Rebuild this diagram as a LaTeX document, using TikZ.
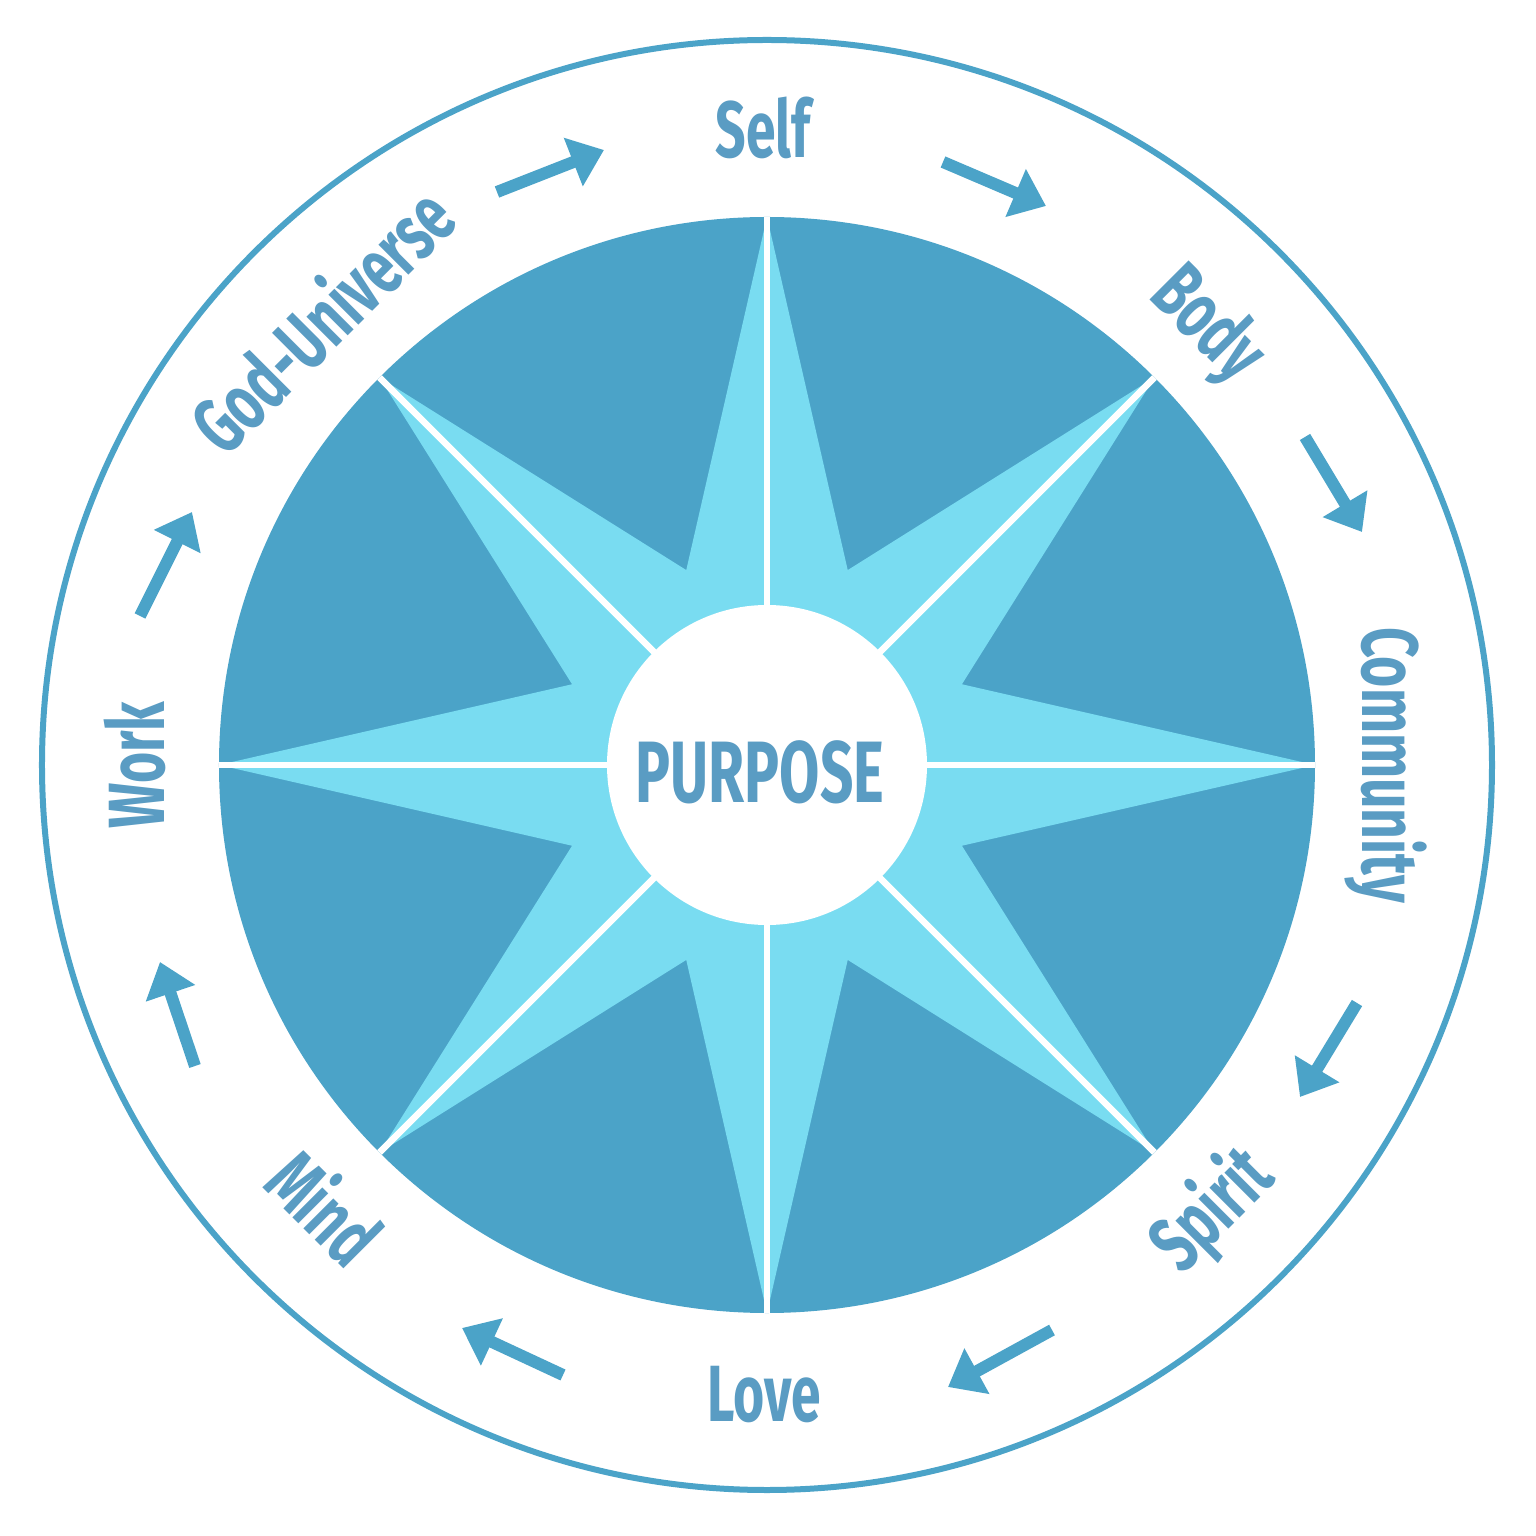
\documentclass[tikz,border=0pt]{standalone}
\usepackage{fontspec}
\newfontfamily\labfont[FakeStretch=0.67]{Fira Sans}
\usetikzlibrary{arrows.meta}
\definecolor{darkb}{HTML}{4BA3C8}
\definecolor{lightb}{HTML}{79DCF1}
\definecolor{txtb}{HTML}{5A9CC3}
\begin{document}
\begin{tikzpicture}[
  lab/.style={font=\labfont\bfseries\fontsize{22.7}{24}\selectfont, text=txtb, inner sep=0pt, text height=0.55cm, text depth=0pt},
  cyc/.style={draw=darkb, line width=0.12cm, -{Triangle[length=0.33cm,width=0.5cm]}},
]
\useasboundingbox[fill=white] (-7.67,-7.71) rectangle (7.69,7.65);
% outer ring
\draw[darkb, line width=0.06cm] (0,0) circle[radius=7.25];
% dark disc
\fill[darkb] (0,0) circle[radius=5.48];
\begin{scope}
  \clip (0,0) circle[radius=5.48];
  \fill[lightb] (90:5.48) -- (67.5:2.11) -- (45:5.48) -- (22.5:2.11) -- (0:5.48) -- (-22.5:2.11)
    -- (-45:5.48) -- (-67.5:2.11) -- (-90:5.48) -- (-112.5:2.11) -- (-135:5.48) -- (-157.5:2.11)
    -- (180:5.48) -- (157.5:2.11) -- (135:5.48) -- (112.5:2.11) -- cycle;
  \foreach \a in {0,45,...,315} \draw[white, line width=0.065cm] (0,0) -- (\a:5.6);
\end{scope}
% hub
\node[circle, fill=white, minimum size=3.2cm, inner sep=0pt] (hub) at (0,0) {};
\node[lab, font=\labfont\bfseries\fontsize{24.8}{26}\selectfont, text height=0.6cm] (purpose) at (-0.07,-0.07) {PURPOSE};
% labels
\node[lab] (self) at (-0.04,6.345) {Self};
\node[lab, rotate=-45] (body) at (45:6.27) {Body};
\node[lab, rotate=-90] (community) at (0:6.23) {Community};
\node[lab, rotate=45] (spirit) at (-45:6.27) {Spirit};
\node[lab] (love) at (-0.03,-6.285) {Love};
\node[lab, rotate=-45] (mind) at (-135:6.28) {Mind};
\node[lab, rotate=90] (work) at (180:6.30) {Work};
\node[lab, rotate=45] (god) at (135:6.27) {God-Universe};
% arrow end points
\coordinate (a1s) at (1.76,6.03);   \coordinate (a1t) at (2.79,5.59);
\coordinate (a2s) at (5.38,3.28);   \coordinate (a2t) at (5.95,2.33);
\coordinate (a3s) at (5.90,-2.38);  \coordinate (a3t) at (5.33,-3.32);
\coordinate (a4s) at (2.85,-5.65);  \coordinate (a4t) at (1.81,-6.22);
\coordinate (a5s) at (-2.04,-6.10); \coordinate (a5t) at (-3.05,-5.63);
\coordinate (a6s) at (-5.72,-3.01); \coordinate (a6t) at (-6.07,-1.97);
\coordinate (a7s) at (-6.27,1.49);  \coordinate (a7t) at (-5.75,2.53);
\coordinate (a8s) at (-2.70,5.73);  \coordinate (a8t) at (-1.63,6.15);
\foreach \i in {1,...,8} \draw[cyc] (a\i s) -- (a\i t);
\end{tikzpicture}
\end{document}
